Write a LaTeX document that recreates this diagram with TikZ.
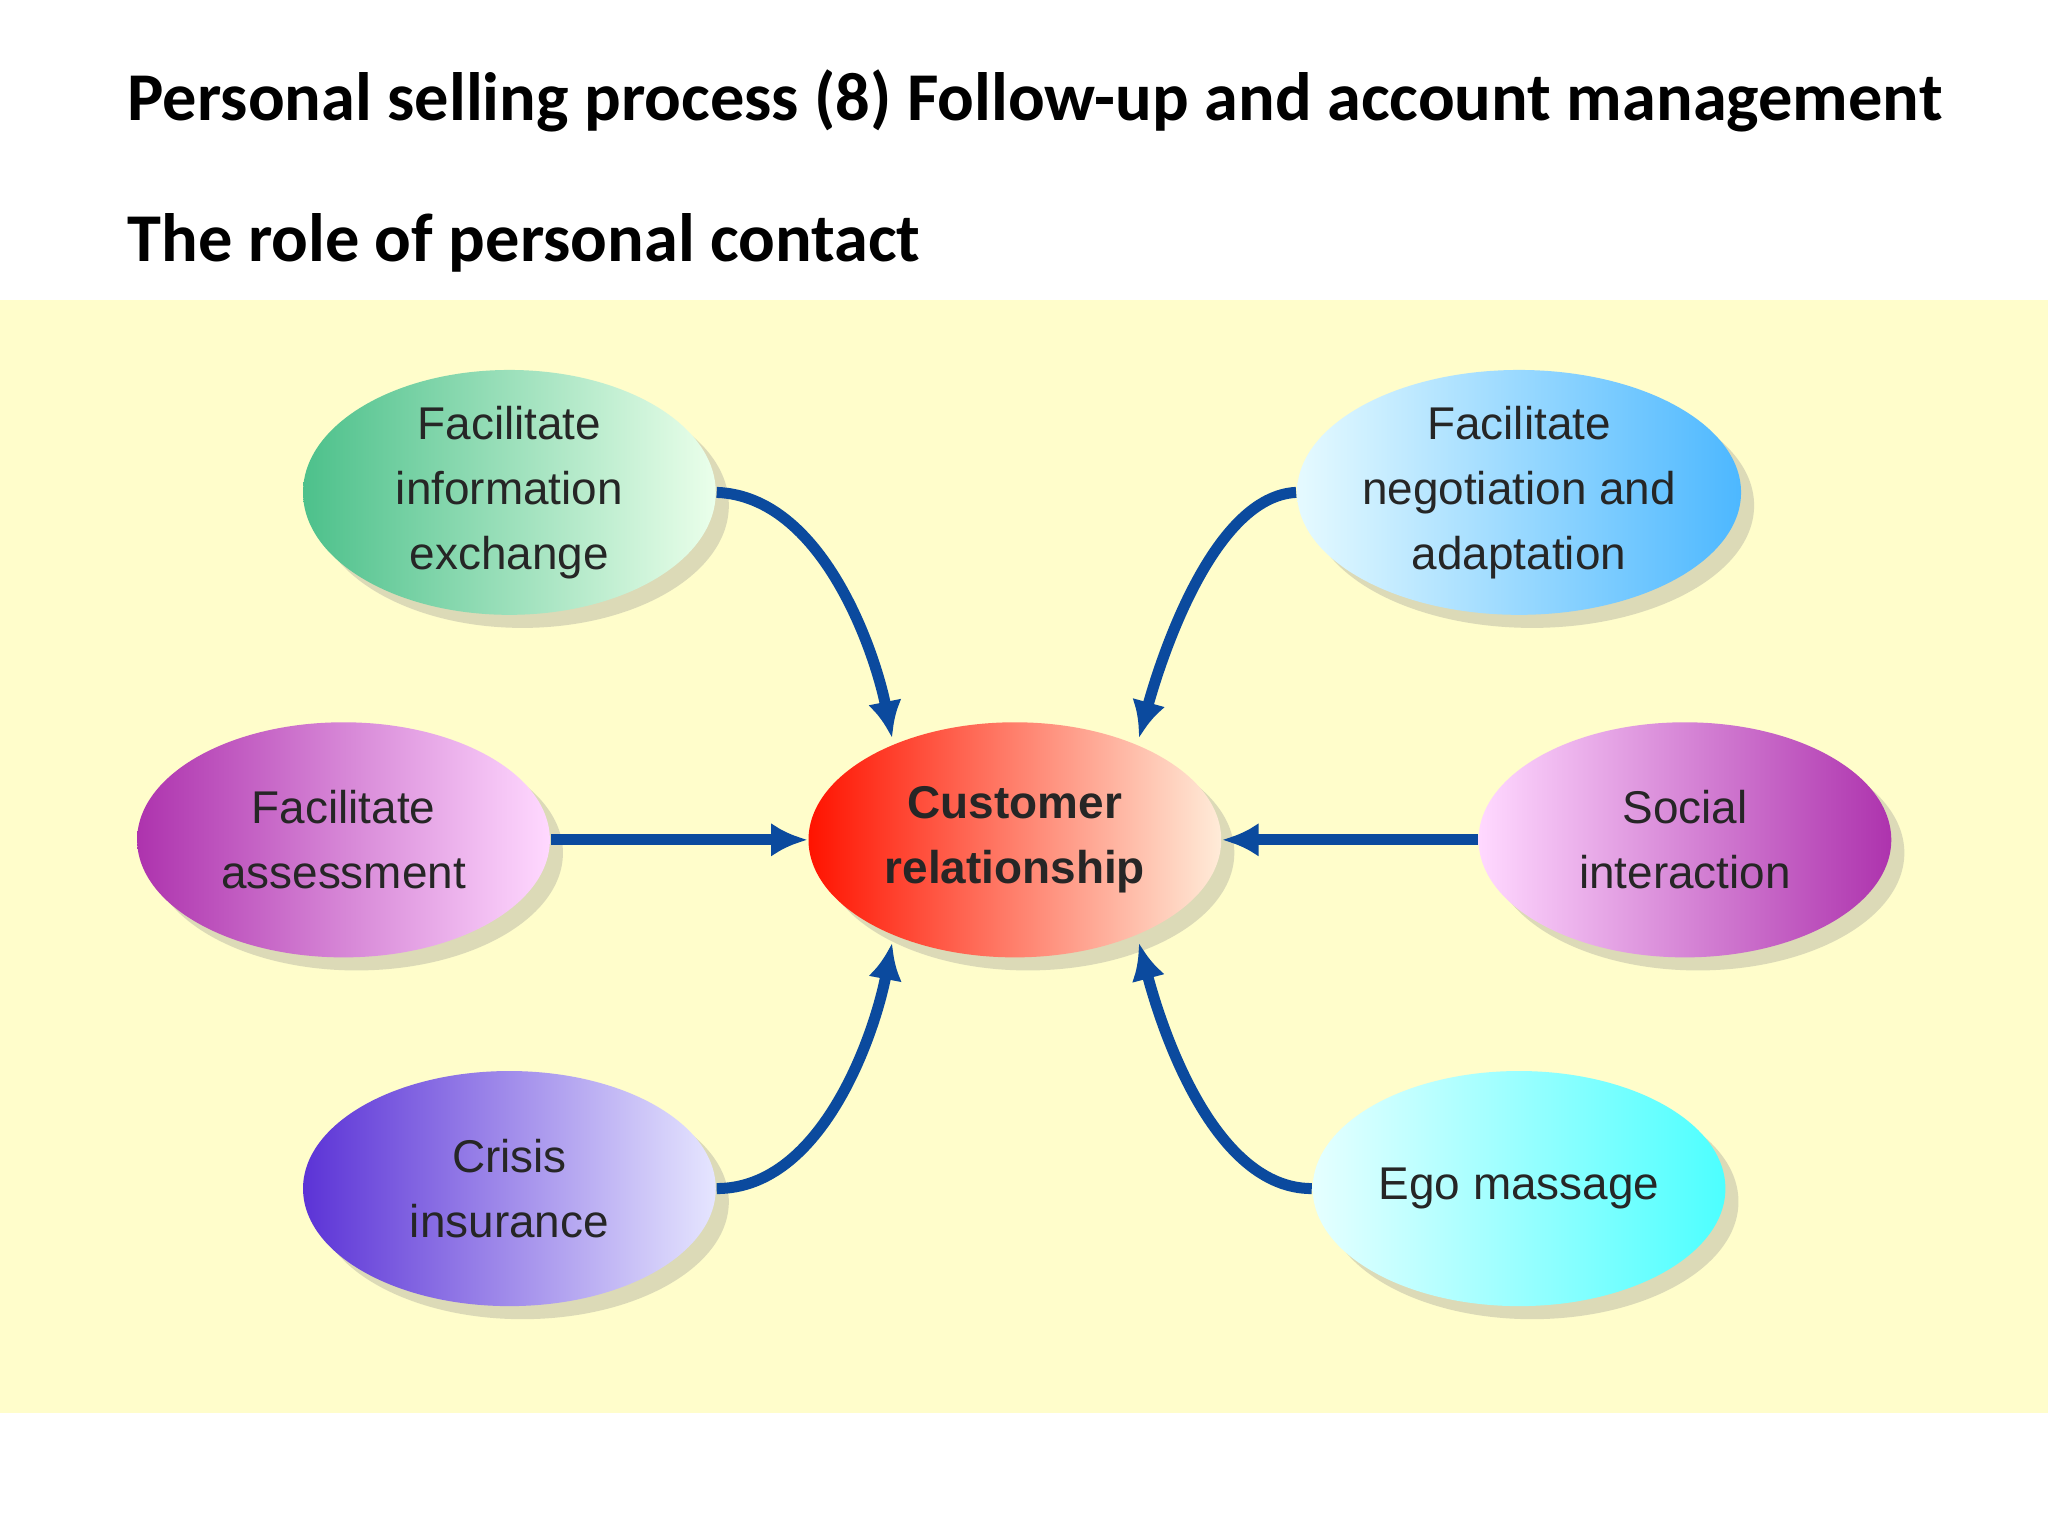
\documentclass[tikz,border=0pt]{standalone}
\usepackage{fontspec}
\setmainfont{Carlito}
\newfontfamily\ellfont{Liberation Sans}
\usetikzlibrary{shapes.geometric,shadows,arrows.meta}
\definecolor{band}{HTML}{FFFDCB}
\definecolor{arr}{HTML}{0B4A9E}
\begin{document}
\begin{tikzpicture}[x=1cm,y=1cm,
  ell/.style={ellipse,minimum width=3.16cm,minimum height=1.8cm,inner sep=0pt,align=center,
    font=\ellfont\fontsize{10}{14.2}\selectfont,text=black!85,
    drop shadow={shadow xshift=0.1cm,shadow yshift=-0.1cm,opacity=0.3,fill=black!45}},
  con/.style={draw=arr,line width=2.4pt,-{Latex[length=0.28cm,width=0.26cm]}},
  ttl/.style={anchor=base west,inner sep=0pt,font=\bfseries\fontsize{14.9}{18}\selectfont}]
\useasboundingbox (0,0) rectangle (15.68,-11.76);
\fill[white] (0,0) rectangle (15.68,-11.76);
\fill[band] (0,-2.3) rectangle (15.68,-10.82);
\node[ttl] (t1) at (0.97,-0.92) {Personal selling process (8) Follow-up and account management};
\node[ttl] (t2) at (0.97,-2.0) {The role of personal contact};
\node[ell,shading angle=60,left color=teal!70!green!70,right color=green!8] (info) at (3.9,-3.77) {Facilitate\\information\\exchange};
\node[ell,shading angle=120,left color=blue!20!cyan!10,right color=blue!40!cyan!70] (neg) at (11.63,-3.77) {Facilitate\\negotiation and\\adaptation};
\node[ell,shading angle=60,left color=violet!80!magenta!80,right color=magenta!15] (ass) at (2.63,-6.43) {Facilitate\\assessment};
\node[ell,shading angle=60,left color=red!85!orange,right color=orange!15,font=\ellfont\bfseries\fontsize{10}{14.2}\selectfont] (cust) at (7.77,-6.43) {Customer\\relationship};
\node[ell,shading angle=120,left color=magenta!15,right color=violet!80!magenta!80] (soc) at (12.9,-6.43) {Social\\interaction};
\node[ell,shading angle=60,left color=blue!60!violet!80,right color=blue!10] (cri) at (3.9,-9.1) {Crisis\\insurance};
\node[ell,shading angle=120,left color=cyan!10,right color=cyan!70] (ego) at (11.63,-9.1) {Ego massage};
\draw[con] (info.east) .. controls (6.3,-3.8) and (6.7,-5.0) .. (6.83,-5.65);
\draw[con] (neg.west) .. controls (9.3,-3.8) and (8.9,-5.0) .. (8.72,-5.65);
\draw[con] (cri.east) .. controls (6.3,-9.1) and (6.7,-7.9) .. (6.83,-7.22);
\draw[con] (ego.west) .. controls (9.3,-9.1) and (8.9,-7.9) .. (8.72,-7.22);
\draw[con] (ass.east) -- (cust.west);
\draw[con] (soc.west) -- (cust.east);
\end{tikzpicture}
\end{document}
